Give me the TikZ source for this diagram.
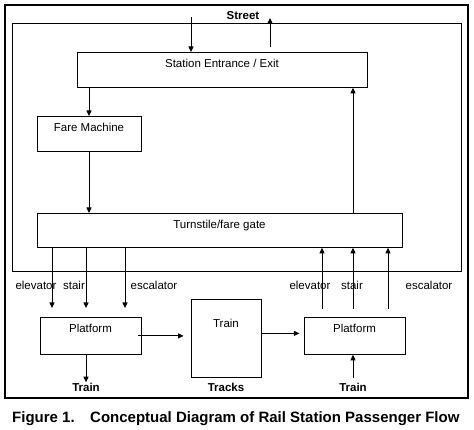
\documentclass[tikz,border=0pt]{standalone}
\usepackage{fontspec}
\setmainfont{Liberation Sans}
\usetikzlibrary{arrows.meta}
\begin{document}
\begin{tikzpicture}[x = 1pt, y = -1pt,
	every node/.style = {font = \fontsize{11.5}{13}\selectfont},
	box/.style = {draw, line width = 0.8pt, inner sep = 0pt, text height = 15pt},
	tag/.style = {font = \fontsize{11.5}{13}\selectfont\bfseries},
	arr/.style = {line width = 0.8pt, -{Triangle[length = 5.5pt, width = 5pt]}}]
	\useasboundingbox (0, 0) rectangle (474, 430);
	% frames
	\draw[line width = 1.8pt] (5, 5) rectangle (468, 398);
	\draw[line width = 0.9pt] (12, 23) rectangle (461, 271);
	\node[tag] (street) at (243, 16) {Street};
	% boxes
	\node[box, anchor = north, minimum width = 290pt, text depth = 20pt] (station) at (222, 52) {Station Entrance / Exit};
	\node[box, anchor = north, minimum width = 104pt, text depth = 20pt] (fare) at (89, 116) {Fare Machine};
	\node[box, anchor = north, minimum width = 365pt, text depth = 19pt] (turn) at (219.5, 213) {Turnstile/fare gate};
	\node[box, anchor = north, minimum width = 101pt, text depth = 22pt] (platL) at (90.5, 317) {Platform};
	\node[box, anchor = north, minimum width = 70pt, text height = 28pt, text depth = 50pt] (train) at (226, 299) {Train};
	\node[box, anchor = north, minimum width = 101pt, text depth = 22pt] (platR) at (354.5, 317) {Platform};
	\node[tag] (trainL) at (86, 387) {Train};
	\node[tag] (tracks) at (226, 387) {Tracks};
	\node[tag] (trainR) at (353, 387) {Train};
	% street
	\coordinate (streetin) at (191, 17);
	\coordinate (streetout) at (270, 18);
	\draw[arr] (streetin) -- (station.north -| streetin);
	\draw[arr] ([yshift = 5pt]station.north -| streetout) -- (streetout);
	% inside the station
	\draw[arr] (station.south -| fare.north) -- (fare.north);
	\draw[arr] (fare.south) -- (turn.north -| fare.south);
	\draw[arr] (turn.north -| 353, 0) -- (station.south -| 353, 0);
	% down to the platform
	\foreach \x/\lx/\lbl in {52/36/elevator, 86/74/stair, 125/154/escalator}{
		\draw[arr] (turn.south -| \x, 0) -- ([yshift = 9pt]platL.north -| \x, 0);
		\node (dn\lbl) at (\lx, 285) {\lbl};}
	% up from the platform
	\foreach \x/\lx/\lbl in {322/310/elevator, 353/352/stair, 388/429/escalator}{
		\draw[arr] ([yshift = 8pt]platR.north -| \x, 0) -- (turn.south -| \x, 0);
		\node (up\lbl) at (\lx, 285) {\lbl};}
	% platforms and train
	\draw[arr] ([xshift = -3pt]platL.east) -- ([xshift = -7pt]train.west |- platL.east);
	\draw[arr] ([yshift = 5pt]train.east) -- ++(38, 0);
	\draw[arr] (platL.south -| trainL) -- ([yshift = -3pt]trainL.north);
	\draw[arr] ([yshift = 1pt]trainR.north) -- (platR.south -| trainR);
	% caption
	\node[anchor = base west, inner sep = 0pt, font = \fontsize{15}{17}\selectfont\bfseries] (fig) at (12, 422) {Figure 1.};
	\node[anchor = base west, inner sep = 0pt, font = \fontsize{15}{17}\selectfont\bfseries] (caption) at (90, 422) {Conceptual Diagram of Rail Station Passenger Flow};
\end{tikzpicture}
\end{document}
